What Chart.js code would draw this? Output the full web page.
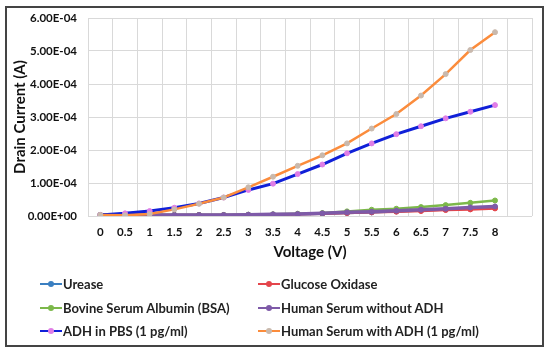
<!DOCTYPE html>
<html>
<head>
<meta charset="utf-8">
<script src="https://cdn.jsdelivr.net/npm/chart.js@4"></script>
<style>
    body { margin: 0; background: #fff; }
    #wrap { position: relative; width: 550px; height: 352px; }
    #frame { position: absolute; left: 5px; top: 6px; width: 535px; height: 337px; border: 2px solid #444; }
    #chart { position: absolute; left: 0; top: 0; }
    .leg { position: absolute; font: bold 13px Lato, sans-serif; color: #222; white-space: nowrap; }
    .leg .ln { position: absolute; left: 0; top: 8px; width: 22px; height: 2px; }
    .leg .dot { position: absolute; left: 8px; top: 6px; width: 6px; height: 6px; border-radius: 50%; }
    .leg .txt { position: absolute; left: 23px; top: 0; line-height: 18px; }
</style>
</head>
<body>
<div id="wrap">
    <div id="frame"></div>
    <canvas id="chart" width="550" height="352"></canvas>
    <div id="legend"></div>
</div>
<script>
const voltages = ["0", "0.5", "1", "1.5", "2", "2.5", "3", "3.5", "4", "4.5", "5", "5.5", "6", "6.5", "7", "7.5", "8", ""];

// values in units of 1e-4 A
const urease = [0.03, 0.03, 0.03, 0.03, 0.03, 0.03, 0.03, 0.04, 0.05, 0.07, 0.09, 0.11, 0.14, 0.17, 0.20, 0.23, 0.26];
const glucoseOxidase = [0.03, 0.03, 0.03, 0.03, 0.03, 0.03, 0.03, 0.04, 0.05, 0.07, 0.09, 0.11, 0.13, 0.15, 0.18, 0.20, 0.23];
const bsa = [0.03, 0.03, 0.03, 0.03, 0.03, 0.03, 0.04, 0.05, 0.07, 0.09, 0.14, 0.19, 0.22, 0.27, 0.33, 0.40, 0.47];
const serumNoAdh = [0.03, 0.03, 0.03, 0.03, 0.03, 0.03, 0.04, 0.05, 0.06, 0.08, 0.11, 0.13, 0.16, 0.19, 0.22, 0.26, 0.29];
const adhPbs = [0.03, 0.08, 0.15, 0.25, 0.38, 0.56, 0.79, 0.98, 1.27, 1.56, 1.90, 2.20, 2.48, 2.72, 2.96, 3.16, 3.36];
const serumAdh = [0.03, 0.02, 0.06, 0.20, 0.37, 0.56, 0.87, 1.19, 1.52, 1.84, 2.20, 2.65, 3.09, 3.65, 4.30, 5.03, 5.57];

const seriesNames = ["Urease", "Glucose Oxidase", "Bovine Serum Albumin (BSA)", "Human Serum without ADH", "ADH in PBS (1 pg/ml)", "Human Serum with ADH (1 pg/ml)"];
const seriesData = [urease, glucoseOxidase, bsa, serumNoAdh, adhPbs, serumAdh];
const lineColors = ["#3a7fc1", "#e4454b", "#7cb84a", "#7e5aa8", "#1020d8", "#fb8c3c"];
const pointColors = ["#3a7fc1", "#e4454b", "#7cb84a", "#7e5aa8", "#e07ee6", "#c9b9ad"];
const lineWidths = [2.5, 2.5, 2.5, 3.5, 3, 2.5];

function fmtExp(v) {
    const parts = v.toExponential(2).split("e");
    const e = parseInt(parts[1], 10);
    return parts[0] + "E" + (e < 0 ? "-" : "+") + String(Math.abs(e)).padStart(2, "0");
}

const datasets = seriesData.map((vals, i) => ({
    label: seriesNames[i],
    data: vals.map(v => v * 1e-4),
    borderColor: lineColors[i],
    backgroundColor: pointColors[i],
    pointBackgroundColor: pointColors[i],
    pointBorderColor: pointColors[i],
    pointRadius: 2.5,
    pointBorderWidth: 1,
    borderWidth: lineWidths[i],
    tension: 0,
    order: seriesData.length - i
}));

const tickFont = { family: "Lato, sans-serif", size: 11.5, weight: "bold" };

new Chart(document.getElementById("chart"), {
    type: "line",
    data: { labels: voltages, datasets },
    options: {
        responsive: false,
        animation: false,
        layout: { padding: { left: 11, top: 18, right: 18, bottom: 91 } },
        plugins: { legend: { display: false }, tooltip: { enabled: false } },
        scales: {
            x: {
                offset: true,
                grid: { color: "#d9d9d9", offset: true, drawTicks: false },
                border: { display: false },
                ticks: { font: tickFont, color: "#111", padding: 9, maxRotation: 0, autoSkip: false },
                title: { display: true, text: "Voltage (V)", font: { family: "Lato, sans-serif", size: 15, weight: "bold" }, color: "#111", padding: 0 },
                afterFit: axis => { axis.height = 45; }
            },
            y: {
                min: 0,
                max: 6e-4,
                grid: { color: "#d9d9d9", drawTicks: false },
                border: { display: false },
                ticks: { stepSize: 1e-4, font: tickFont, color: "#111", padding: 11, callback: v => fmtExp(v) },
                title: { display: true, text: "Drain Current (A)", font: { family: "Lato, sans-serif", size: 15, weight: "bold" }, color: "#111", padding: 0 },
                afterFit: axis => { axis.width = 77; }
            }
        }
    }
});

// legend: two columns, three rows
const legend = document.getElementById("legend");
const colX = [40, 258];
const rowY = [275, 299, 322];
seriesNames.forEach((name, i) => {
    const item = document.createElement("div");
    item.className = "leg";
    item.style.left = colX[i % 2] + "px";
    item.style.top = rowY[Math.floor(i / 2)] + "px";
    item.innerHTML = `<span class="ln" style="background:${lineColors[i]}"></span>` +
        `<span class="dot" style="background:${pointColors[i]}"></span>` +
        `<span class="txt">${name}</span>`;
    legend.appendChild(item);
});
</script>
</body>
</html>
